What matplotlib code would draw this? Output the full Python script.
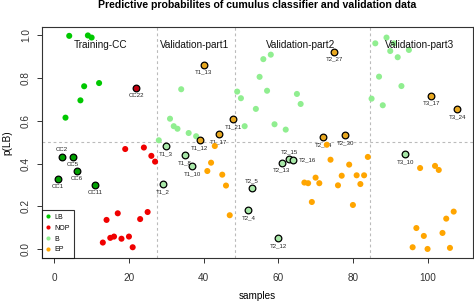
import matplotlib
matplotlib.use("Agg")
import matplotlib.pyplot as plt
from matplotlib.lines import Line2D

plt.rcParams['font.family'] = ['Liberation Sans', 'DejaVu Sans']

# ---- data ----
prob = [
    # Training-CC (1-27)
    0.328, 0.431, 0.615, 0.998, 0.431, 0.365, 0.696, 0.762, 1.000, 0.990, 0.298, 0.777,
    0.030, 0.136, 0.052, 0.058, 0.167, 0.048, 0.468, 0.058, 0.008, 0.753, 0.140, 0.475,
    0.173, 0.436, 0.409,
    # Validation-part1 (28-48)
    0.509, 0.303, 0.481, 0.610, 0.575, 0.563, 0.748, 0.439, 0.543, 0.387, 0.528,
    0.509, 0.863, 0.365, 0.404, 0.482, 0.537, 0.348, 0.297, 0.158, 0.607,
    # Validation-part2 (49-84)
    0.737, 0.706, 0.575, 0.181, 0.284, 0.656, 0.806, 0.889, 0.741, 0.910, 0.584, 0.050,
    0.404, 0.559, 0.421, 0.418, 0.726, 0.679,
    0.311, 0.308, 0.220, 0.334, 0.308, 0.525, 0.488, 0.418, 0.924, 0.298, 0.343, 0.534,
    0.395, 0.206, 0.345, 0.304, 0.345, 0.431,
    # Validation-part3 (85-108)
    0.704, 0.963, 0.807, 0.673, 0.990, 0.927, 0.963, 0.898, 0.763, 0.445, 0.932,
    0.008, 0.098, 0.379, 0.061, 0.000, 0.718, 0.389, 0.370, 0.075, 0.142, 0.005, 0.175, 0.654,
]
cls = (["LB"] * 12 + ["NOP"] * 15 +
       ["B"] * 11 + ["EP"] * 10 +
       ["B"] * 18 + ["EP"] * 18 +
       ["B"] * 11 + ["EP"] * 13)
samples = list(range(1, len(prob) + 1))

label_samples = [1, 2, 5, 6, 11, 22,
                 29, 30, 35, 37, 39, 40, 44, 48,
                 52, 53, 60, 61, 63, 64, 72, 75, 78,
                 94, 101, 108]
label_texts = ["CC1", "CC2", "CC5", "CC6", "CC11", "CC22",
               "T1_2", "T1_3", "T1_8", "T1_10", "T1_12", "T1_13", "T1_17", "T1_21",
               "T2_4", "T2_5", "T2_12", "T2_13", "T2_15", "T2_16", "T2_24", "T2_27", "T2_30",
               "T3_10", "T3_17", "T3_24"]
# label side: b = below, a = above, r = right
label_side = ["b", "a", "b", "b", "b", "b",
              "b", "b", "b", "b", "b", "b", "b", "b",
              "b", "a", "b", "b", "a", "r", "b", "b", "b",
              "b", "b", "b"]

section_names = ["Training-CC", "Validation-part1", "Validation-part2", "Validation-part3"]
section_text_x = [12.3, 37.7, 66.0, 97.8]
section_bounds = [27.5, 48.5, 84.5]

class_names = ["LB", "NOP", "B", "EP"]
class_colors = {"LB": "#00C800", "NOP": "#F00000", "B": "#90EE90", "EP": "#FFA500"}
label_fill = {"LB": "#00A000", "NOP": "#C00010", "B": "#A8E8A8", "EP": "#E8A820"}

# ---- figure ----
fig = plt.figure(figsize=(4.74, 3.02), dpi=100)
ax = fig.add_axes([42.05 / 474, 1 - 257.5 / 302, 431.35 / 474, 230.6 / 302])

ax.set_xlim(-3.28, 112.28)
ax.set_ylim(-0.04, 1.04)

ax.axhline(0.5, color="#BBBBBB", lw=0.8, ls=(0, (2.5, 2.5)), zorder=1)
for b in section_bounds:
    ax.axvline(b, color="#BBBBBB", lw=0.8, ls=(0, (2.5, 2.5)), zorder=1)

lab_set = set(label_samples)
for c in class_names:
    xs = [s for s, cc in zip(samples, cls) if cc == c and s not in lab_set]
    ys = [p for s, p, cc in zip(samples, prob, cls) if cc == c and s not in lab_set]
    ax.scatter(xs, ys, s=19, color=class_colors[c], edgecolors="none", zorder=4)

offsets = {"b": ((0, -5.4), "center"), "a": ((0, 5.4), "center"), "r": ((4.2, 0), "left")}
for s, t, side in zip(label_samples, label_texts, label_side):
    c = cls[s - 1]
    p = prob[s - 1]
    ax.scatter([s], [p], s=23, facecolor=label_fill[c], edgecolors="black",
               linewidths=0.9, zorder=5)
    off, ha = offsets[side]
    ax.annotate(t, (s, p), xytext=off, textcoords="offset points",
                ha=ha, va="center", fontsize=4.4, color="#222222", zorder=3)

for name, x in zip(section_names, section_text_x):
    ax.text(x, 0.955, name, ha="center", va="center", fontsize=7.2, color="#111111", zorder=6)

ax.set_xticks([0, 20, 40, 60, 80, 100])
ax.set_yticks([0.0, 0.2, 0.4, 0.6, 0.8, 1.0])
ax.set_yticklabels(["0.0", "0.2", "0.4", "0.6", "0.8", "1.0"], rotation=90, va="center")
ax.tick_params(axis="both", length=3.6, width=0.7, labelsize=7.2, colors="#333333")
ax.tick_params(axis="x", pad=7.5)
ax.tick_params(axis="y", pad=4.5)
for sp in ax.spines.values():
    sp.set_linewidth(0.8)
    sp.set_color("#333333")

ax.set_xlabel("samples", fontsize=7.2, labelpad=6)
ax.set_ylabel("p(LB)", fontsize=7.2, labelpad=6)

handles = [Line2D([], [], ls="none", marker="o", markersize=3.0,
                  markerfacecolor=class_colors[c], markeredgecolor="none") for c in class_names]
leg = ax.legend(handles, class_names, loc="lower left", borderaxespad=0, fontsize=5.0,
                frameon=True, fancybox=False, edgecolor="black", handlelength=0.6,
                handletextpad=0.6, labelspacing=0.55, borderpad=0.6)
leg.get_frame().set_linewidth(0.8)
leg.set_zorder(7)

fig.text(257.5 / 474, 1 - 5.5 / 302, "Predictive probabilites of cumulus classifier and validation data",
         ha="center", va="center", fontsize=7.6, fontweight="bold")

fig.savefig("out.png", dpi=100)
